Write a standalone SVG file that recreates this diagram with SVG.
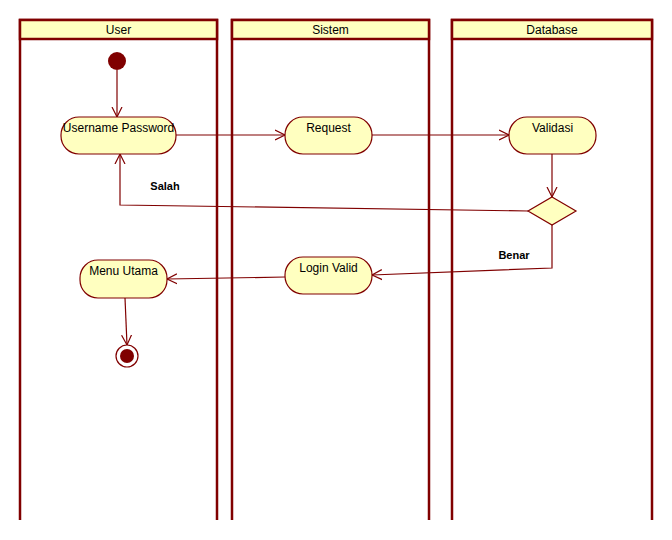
<svg xmlns="http://www.w3.org/2000/svg" width="672" height="540" viewBox="0 0 672 540">
<style>
.lane{fill:none;stroke:#800000;stroke-width:2.5}
.hdr{fill:#ffffc0;stroke:#800000;stroke-width:2.5}
.act{fill:#ffffc0;stroke:#800000;stroke-width:1.2}
.t{font-family:"Liberation Sans",Arial,sans-serif;font-size:12px;fill:#000;text-anchor:middle}
.b{font-weight:bold;font-size:11px}
.c{fill:none;stroke:#800000;stroke-width:1.2}
</style>
<defs>
<marker id="a" markerWidth="12" markerHeight="12" refX="10" refY="6" orient="auto" markerUnits="userSpaceOnUse">
<path d="M0,1 L10,6 L0,11" fill="none" stroke="#800000" stroke-width="1.2"/>
</marker>
</defs>
<rect width="672" height="540" fill="#fff"/>
<g id="lane-user"><path class="lane" d="M20,520 V20 H217 V520"/><rect class="hdr" x="20" y="20" width="197" height="19"/><text class="t" x="118.5" y="34">User</text></g>
<g id="lane-sistem"><path class="lane" d="M232,520 V20 H429 V520"/><rect class="hdr" x="232" y="20" width="197" height="19"/><text class="t" x="330.5" y="34">Sistem</text></g>
<g id="lane-database"><path class="lane" d="M452,520 V20 H652 V520"/><rect class="hdr" x="452" y="20" width="200" height="19"/><text class="t" x="552" y="34">Database</text></g>
<g id="connectors">
<path class="c" d="M117,70 L117,117" marker-end="url(#a)"/>
<path class="c" d="M176,135 L285,135" marker-end="url(#a)"/>
<path class="c" d="M372,135 L509,135" marker-end="url(#a)"/>
<path class="c" d="M552,154 L552,197" marker-end="url(#a)"/>
<path class="c" d="M528,211 L120,205 L120,154" marker-end="url(#a)"/>
<path class="c" d="M552,225 L552,268 L372,275" marker-end="url(#a)"/>
<path class="c" d="M285,277 L167,279" marker-end="url(#a)"/>
<path class="c" d="M125,298 L127,345" marker-end="url(#a)"/>
<text class="t b" x="165" y="190">Salah</text>
<text class="t b" x="514" y="259">Benar</text>
</g>
<g id="start"><circle cx="117" cy="61" r="9" fill="#800000"/></g>
<g id="username"><rect class="act" x="61" y="117" width="115" height="37" rx="18"/><text class="t" x="118.5" y="132">Username Password</text></g>
<g id="request"><rect class="act" x="285" y="117" width="87" height="37" rx="18"/><text class="t" x="328.5" y="132">Request</text></g>
<g id="validasi"><rect class="act" x="509" y="117" width="87" height="37" rx="18"/><text class="t" x="552.5" y="132">Validasi</text></g>
<g id="decision"><polygon class="act" points="552,197 576,211 552,225 528,211"/></g>
<g id="login"><rect class="act" x="285" y="257" width="87" height="37" rx="18"/><text class="t" x="328.5" y="272">Login Valid</text></g>
<g id="menu"><rect class="act" x="80" y="260" width="87" height="38" rx="18"/><text class="t" x="123.5" y="275">Menu Utama</text></g>
<g id="end"><circle cx="127" cy="356" r="11" fill="#fff" stroke="#800000" stroke-width="1.2"/><circle cx="127" cy="356" r="7" fill="#800000"/></g>
</svg>
